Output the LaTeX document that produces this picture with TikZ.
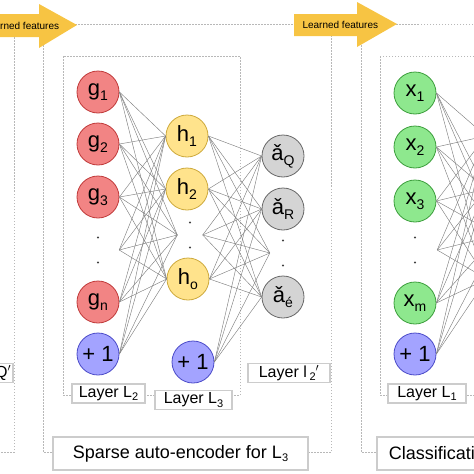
\documentclass[tikz,border=0pt]{standalone}
\usepackage{fontspec}
\setmainfont{Liberation Sans}
\usepackage{xcolor}
\usetikzlibrary{positioning}

\definecolor{gfill}{HTML}{F28484}
\definecolor{gline}{HTML}{C03A3A}
\definecolor{hfill}{HTML}{FFE38C}
\definecolor{hline}{HTML}{CDA93C}
\definecolor{afill}{HTML}{D4D4D4}
\definecolor{aline}{HTML}{686868}
\definecolor{xfill}{HTML}{8EE88E}
\definecolor{xline}{HTML}{3C9E3C}
\definecolor{bfill}{HTML}{A3A3FF}
\definecolor{bline}{HTML}{4B4BC8}
\definecolor{arrowc}{HTML}{F7C443}
\newcommand{\lsub}[1]{\raisebox{-0.45ex}{\fontsize{14}{14}\selectfont #1}}
\newcommand{\lsubl}[1]{\raisebox{-0.4ex}{\fontsize{11}{11}\selectfont #1}}

\tikzset{
  neuron/.style={circle, draw, line width=0.8pt, minimum size=42pt, inner sep=0pt, font=\fontsize{22}{22}\selectfont},
  gnode/.style={neuron, fill=gfill, draw=gline},
  hnode/.style={neuron, fill=hfill, draw=hline},
  anode/.style={neuron, fill=afill, draw=aline},
  xnode/.style={neuron, fill=xfill, draw=xline},
  bnode/.style={neuron, fill=bfill, draw=bline},
  gap/.style={rectangle, inner sep=0pt, minimum height=0pt},
  link/.style={draw=black!50, line width=0.45pt},
  frame/.style={draw=black!28, dash pattern=on 1.5pt off 1.5pt, line width=0.6pt},
  layerlab/.style={draw=black!20, line width=1.6pt, fill=white, minimum width=73pt, minimum height=19pt, inner sep=0pt, font=\fontsize{16}{16}\selectfont},
  titlebox/.style={draw=black!20, line width=1.6pt, fill=white, minimum height=33pt, inner sep=0pt, font=\fontsize{18}{18}\selectfont}
}

\begin{document}
\begin{tikzpicture}[x=1pt, y=-1pt]
  \useasboundingbox (0,0) rectangle (474,474);
  \clip (0,0) rectangle (474,474);

  % stage frames
  \draw[frame] (-300,24) rectangle (14,452);
  \draw[frame] (43,24) rectangle (331,452);
  \draw[frame] (63,56) rectangle (240,395);
  \draw[frame] (361,24) rectangle (700,452);
  \draw[frame] (380,56) rectangle (700,395);

  % input layer of the auto-encoder
  \node[gnode] (g1) at (98,92) {g\lsub{1}};
  \node[gnode] (g2) at (98,144) {g\lsub{2}};
  \node[gnode] (g3) at (98,197) {g\lsub{3}};
  \node[gap, minimum width=42pt] (gd) at (98,250) {};
  \node[gnode] (gn) at (98,302) {g\lsub{n}};
  \node[bnode] (gb) at (98,354) {+ 1};

  % hidden layer
  \node[hnode] (h1) at (187,136) {h\lsub{1}};
  \node[hnode] (h2) at (187,189) {h\lsub{2}};
  \node[gap, minimum width=25pt] (hd) at (190,235) {};
  \node[hnode] (ho) at (188,279) {h\lsub{o}};
  \node[bnode] (hb) at (193,362) {+ 1};

  % output layer
  \node[anode] (aQ) at (283,156) {ǎ\lsub{Q}};
  \node[anode] (aR) at (283,209) {ǎ\lsub{R}};
  \node[gap, minimum width=26pt] (ad) at (283,253) {};
  \node[anode] (ae) at (283,297) {ǎ\lsub{é}};

  % classification input layer
  \node[xnode] (x1) at (415,93) {x\lsub{1}};
  \node[xnode] (x2) at (415,147) {x\lsub{2}};
  \node[xnode] (x3) at (415,201) {x\lsub{3}};
  \node[gap, minimum width=44pt] (xd) at (415,250) {};
  \node[xnode] (xm) at (415,303) {x\lsub{m}};
  \node[bnode] (xb) at (415,354) {+ 1};

  % next layer, outside the picture
  \node[gap, minimum width=42pt] (n1) at (507,136) {};
  \node[gap, minimum width=42pt] (n2) at (507,189) {};
  \node[gap, minimum width=25pt] (nd) at (510,235) {};
  \node[gap, minimum width=42pt] (no) at (508,279) {};

  % connections
  \foreach \s in {g1,g2,g3,gd,gn,gb}
    \foreach \t in {h1,h2,hd,ho}
      \draw[link] (\s.east) -- (\t.west);
  \foreach \s in {h1,h2,hd,ho,hb}
    \foreach \t in {aQ,aR,ad,ae}
      \draw[link] (\s.east) -- (\t.west);
  \foreach \s in {x1,x2,x3,xd,xm,xb}
    \foreach \t in {n1,n2,nd,no}
      \draw[link] (\s.east) -- (\t.west);

  % dots
  \foreach \d in {gd,hd,ad,xd} {
    \fill[black!75] ([yshift=12.5pt]\d.center) circle (1.2pt);
    \fill[black!75] ([yshift=-12.5pt]\d.center) circle (1.2pt);
  }

  % layer labels
  \node[layerlab, anchor=east, minimum width=0pt, inner xsep=2pt] (labQ) at (14,373) {Layer Q$'$};
  \node[layerlab] (labL2) at (108.5,393.5) {Layer L\lsubl{2}};
  \node[layerlab, minimum width=77pt] (labL3) at (193.5,400) {Layer L\lsubl{3}};
  \node[layerlab, minimum width=82pt] (labl2) at (289,373) {Layer l\,\lsubl{2}$'$};
  \node[layerlab, minimum width=78pt] (labL1) at (427,393.5) {Layer L\lsubl{1}};

  % stage titles
  \node[titlebox, minimum width=255pt] (sae) at (180.5,453.5) {Sparse auto-encoder for L\lsubl{3}};
  \node[titlebox, anchor=west, inner xsep=12pt] (cls) at (376,453.5) {Classification};

  % learned features arrows
  \fill[arrowc] (-25,14) -- (39,14) -- (39,4) -- (77,25) -- (39,48) -- (39,37) -- (-25,37) -- cycle;
  \node[anchor=west, font=\fontsize{10}{10}\selectfont] (lf1) at (-20,25.5) {Learned features};
  \fill[arrowc] (294,14) -- (357,14) -- (357,2) -- (397,24) -- (357,47) -- (357,36) -- (294,36) -- cycle;
  \node[anchor=west, font=\fontsize{10}{10}\selectfont] (lf2) at (299,25) {Learned features};
\end{tikzpicture}
\end{document}
